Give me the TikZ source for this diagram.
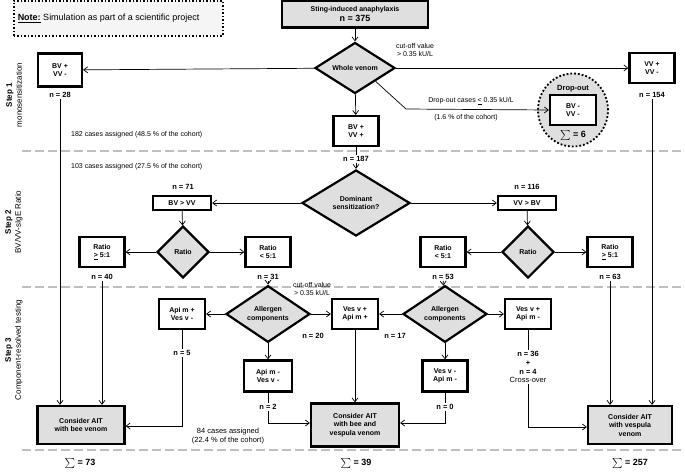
\documentclass[tikz,border=0pt]{standalone}
\usepackage{fontspec}
\setmainfont{Liberation Sans}
\usetikzlibrary{shapes.geometric,arrows.meta}
\tikzset{
  box/.style={draw, line width=2.2pt, fill=white, align=center, font=\bfseries\fontsize{7}{8.5}\selectfont, inner sep=1pt},
  endbox/.style={box, fill=gray!25},
  dia/.style={draw, diamond, line width=2.2pt, fill=gray!25, align=center, inner sep=0pt, font=\bfseries\fontsize{7}{8.5}\selectfont},
  lbl/.style={font=\bfseries\fontsize{7.5}{9}\selectfont, inner sep=1pt},
  sumlbl/.style={font=\bfseries\fontsize{9}{10}\selectfont, inner sep=1pt},
  txt/.style={font=\fontsize{7}{8.5}\selectfont, inner sep=1pt, align=center},
  steplbl/.style={rotate=90, align=center, font=\fontsize{8}{10}\selectfont},
  sep/.style={gray!50, line width=2.4pt, dash pattern=on 9pt off 4pt},
  arr/.style={-{Straight Barb[length=4pt,width=6pt]}, line width=0.7pt},
  ln/.style={line width=0.7pt}
}
\begin{document}
\begin{tikzpicture}[x=1pt,y=-1pt]
\useasboundingbox (0,0) rectangle (685,472);

% Note
\node[draw, dotted, line width=1.5pt, fill=gray!8, minimum width=209pt, minimum height=35pt, anchor=north west, align=justify, text width=201pt, font=\fontsize{9}{11}\selectfont] (note) at (13,0)
  {\textbf{\underline{Note:}} Simulation as part of a scientific project};

% Separators
\draw[sep] (22,151) -- (685,151);
\draw[sep] (22,287) -- (685,287);
\draw[sep] (22,450) -- (685,450);

% Step labels
\node[steplbl] at (14,95) {\textbf{Step 1}\\monosensitization};
\node[steplbl] at (14,222) {\textbf{Step 2}\\BV/VV-sIgE Ratio};
\node[steplbl] at (14,350) {\textbf{Step 3}\\Component-resolved testing};

% Step 1
\node[endbox, minimum width=146pt, minimum height=27pt] (top) at (355,14) {Sting-induced anaphylaxis\\[1pt]\fontsize{9}{10}\selectfont n = 375};
\node[dia, minimum width=80pt, minimum height=51pt] (whole) at (355,68) {Whole venom};
\node[box, minimum width=44pt, minimum height=33pt] (bvp) at (60,70) {BV +\\VV -};
\node[box, minimum width=45pt, minimum height=30pt] (vvp) at (652,68) {VV +\\VV -};
\node[lbl] (n28) at (60,95) {n = 28};
\node[lbl] (n154) at (652,95) {n = 154};
\node[txt] (cut1) at (415,50) {cut-off value\\> 0.35 kU/L};
\node[draw, ellipse, dotted, line width=1.8pt, fill=gray!25, minimum width=70pt, minimum height=73pt] (drop) at (573,110) {};
\node[lbl] at (573,89) {Drop-out};
\node[box, minimum width=46pt, minimum height=30pt] (bvm) at (573,110) {BV -\\VV -};
\node[sumlbl] at (573,135) {$\sum$ = 6};
\coordinate (dk) at (406,109);
\node[txt] at (471,101) {Drop-out cases \underline{<} 0.35 kU/L};
\node[txt] at (466,118) {(1.6 \% of the cohort)};
\node[box, minimum width=45pt, minimum height=30pt] (bvvv) at (356,131) {BV +\\VV +};
\node[txt, anchor=west] at (70,135) {182 cases assigned (48.5 \% of the cohort)};

\draw[arr] (whole) -- (bvp);
\draw[arr] (whole) -- (vvp);
\draw[arr] (whole) -- (bvvv);
\draw[arr] (top) -- (whole);
\draw[ln] (whole.south east) -- (dk);
\draw[arr] (dk) -- (bvm.west);

% Step 2
\node[lbl] (n187) at (356,159) {n = 187};
\node[txt, anchor=west] at (70,167) {103 cases assigned (27.5 \% of the cohort)};
\node[dia, minimum width=108pt, minimum height=66pt] (dom) at (356,203) {Dominant\\sensitization?};
\node[lbl] at (183,187) {n = 71};
\node[lbl] at (527,187) {n = 116};
\node[box, minimum width=58pt, minimum height=14pt] (bvgt) at (182,203) {BV > VV};
\node[box, minimum width=58pt, minimum height=14pt] (vvgt) at (527,203) {VV > BV};
\node[dia, minimum width=52pt, minimum height=52pt] (ratl) at (183,252) {Ratio};
\node[dia, minimum width=52pt, minimum height=52pt] (ratr) at (528,252) {Ratio};
\node[box, minimum width=45pt, minimum height=30pt] (rl1) at (102,252) {Ratio\\\underline{>} 5:1};
\node[box, minimum width=45pt, minimum height=30pt] (rl2) at (268,252) {Ratio\\< 5:1};
\node[box, minimum width=45pt, minimum height=30pt] (rr1) at (443,252) {Ratio\\< 5:1};
\node[box, minimum width=45pt, minimum height=30pt] (rr2) at (610,252) {Ratio\\\underline{>} 5:1};
\node[lbl] (n40) at (102,277) {n = 40};
\node[lbl] (n31) at (268,277) {n = 31};
\node[lbl] (n53) at (443,277) {n = 53};
\node[lbl] (n63) at (610,277) {n = 63};

\draw[ln] (bvvv) -- (n187);
\draw[arr] (n187) -- (dom);
\draw[arr] (dom) -- (bvgt);
\draw[arr] (dom) -- (vvgt);
\draw[arr] (bvgt) -- (ratl);
\draw[arr] (vvgt) -- (ratr);
\draw[arr] (ratl) -- (rl1);
\draw[arr] (ratl) -- (rl2);
\draw[arr] (ratr) -- (rr1);
\draw[arr] (ratr) -- (rr2);

% Step 3
\node[txt] at (312,289) {cut-off value\\> 0.35 kU/L};
\node[dia, minimum width=84pt, minimum height=52pt] (alll) at (268,314) {Allergen\\components};
\node[dia, minimum width=84pt, minimum height=52pt] (allr) at (445,314) {Allergen\\components};
\node[box, minimum width=46pt, minimum height=30pt] (apip) at (182,314) {Api m +\\Ves v -};
\node[box, minimum width=46pt, minimum height=30pt] (vvap) at (355,314) {Ves v +\\Api m +};
\node[box, minimum width=46pt, minimum height=30pt] (vvam) at (528,314) {Ves v +\\Api m -};
\node[box, minimum width=48pt, minimum height=31pt] (amvm) at (268,376) {Api m -\\Ves v -};
\node[box, minimum width=45pt, minimum height=31pt] (vmam) at (445,376) {Ves v -\\Api m -};
\node[lbl] (n5) at (182,353) {n = 5};
\node[lbl] at (313,336) {n = 20};
\node[lbl] at (395,336) {n = 17};
\node[lbl, align=center] (n36) at (528,367) {n = 36\\+\\n = 4\\[-1pt]\mdseries Cross-over};
\node[lbl] (n2) at (268,407) {n = 2};
\node[lbl] (n0) at (445,407) {n = 0};
\node[endbox, minimum width=87pt, minimum height=38pt] (bee) at (81,425) {Consider AIT\\with bee venom};
\node[endbox, minimum width=88pt, minimum height=43pt] (both) at (355,425) {Consider AIT\\with bee and\\vespula venom};
\node[endbox, minimum width=84pt, minimum height=38pt] (vesp) at (630,425) {Consider AIT\\with vespula\\venom};
\node[txt, font=\fontsize{7.5}{9.5}\selectfont] at (228,436) {84 cases assigned\\(22.4 \% of the cohort)};
\node[sumlbl] at (80,463) {$\sum$ = 73};
\node[sumlbl] at (356,463) {$\sum$ = 39};
\node[sumlbl] at (630,463) {$\sum$ = 257};

\draw[arr] (n31) -- (alll);
\draw[arr] (n53) -- (allr);
\draw[arr] (alll) -- (apip);
\draw[arr] (alll) -- (vvap);
\draw[arr] (allr) -- (vvap);
\draw[arr] (allr) -- (vvam);
\draw[arr] (alll) -- (amvm);
\draw[arr] (allr) -- (vmam);
\draw[ln] (apip) -- (n5);
\draw[ln] (vvam) -- (n36);
\draw[ln] (amvm) -- (n2);
\draw[ln] (vmam) -- (n0);

% To the end boxes
\draw[arr] (n28) -- (n28 |- bee.north);
\draw[arr] (n40) -- (n40 |- bee.north);
\draw[arr] (n154) -- (n154 |- vesp.north);
\draw[arr] (n63) -- (n63 |- vesp.north);
\draw[arr] (n5) |- ([yshift=-1pt]bee.east);
\draw[arr] (vvap) -- (both);
\draw[arr] (n2) |- ([yshift=2pt]both.west);
\draw[arr] (n0) |- ([yshift=2pt]both.east);
\draw[arr] (n36) |- ([yshift=-2pt]vesp.west);
\end{tikzpicture}
\end{document}
